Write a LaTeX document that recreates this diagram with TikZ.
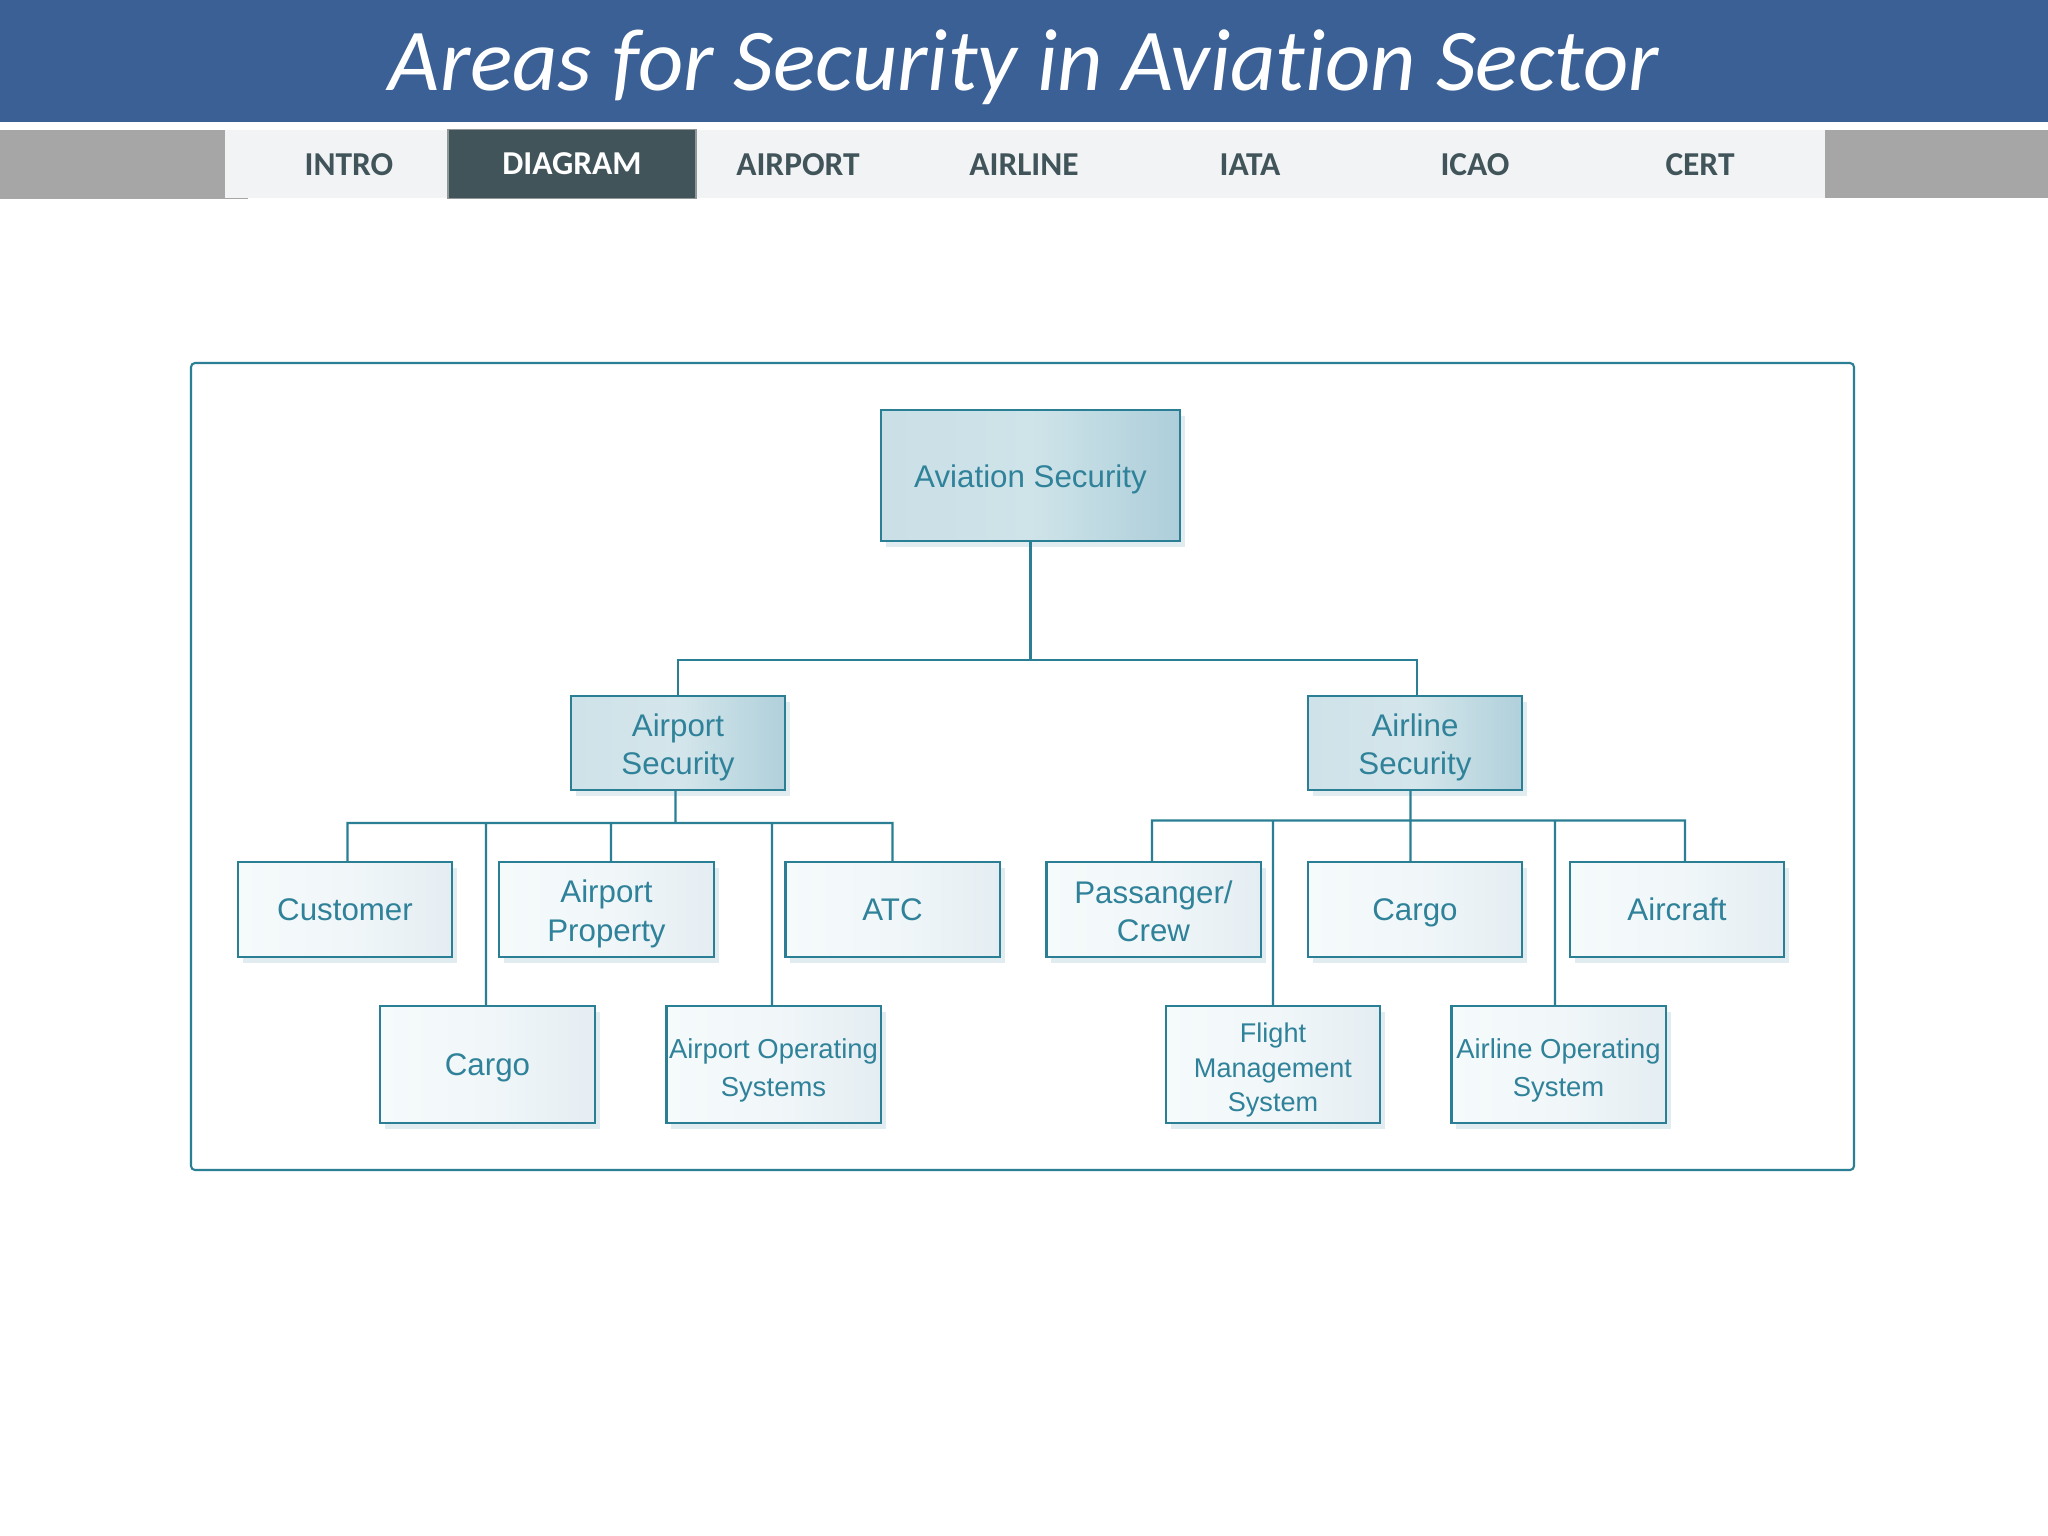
\documentclass[tikz,border=0pt]{standalone}
\usepackage{fontspec}
\usepackage{tikz}
\usepackage{xcolor}
\usetikzlibrary{shadows}
\setmainfont[Ligatures=CommonOff]{Carlito}
\newfontfamily\boxfont{Liberation Sans}
\newcommand{\toppad}[1]{\rule{0pt}{#1}}
\definecolor{banner}{HTML}{3A6095}
\definecolor{navgrey}{HTML}{A5A6A5}
\definecolor{navbar}{HTML}{F1F3F4}
\definecolor{navdark}{HTML}{40545A}
\definecolor{boxline}{HTML}{2A7F95}
\definecolor{boxtext}{HTML}{2F8299}
\definecolor{headleft}{HTML}{CADFE6}
\definecolor{headmid}{HTML}{CFE4E9}
\definecolor{headright}{HTML}{ADCEDA}
\definecolor{midleft}{HTML}{CFE2E9}
\definecolor{midmid}{HTML}{D4E6EB}
\definecolor{midright}{HTML}{B0D0DB}
\definecolor{leafleft}{HTML}{F5FAFB}
\definecolor{leafmid}{HTML}{F1F7F9}
\definecolor{leafright}{HTML}{E4EDF2}

\begin{document}
\begin{tikzpicture}[
    x = 0.01cm,
    y = -0.01cm,
    every node/.style = {align=center, inner sep=0pt},
    navlabel/.style = {font=\bfseries\fontsize{9.5}{11}\selectfont, text=navdark},
    basebox/.style = {
      draw=boxline, line width=0.6pt, text=boxtext,
      font=\boxfont\fontsize{8.9}{10.9}\selectfont,
      drop shadow={shadow xshift=0.05cm, shadow yshift=-0.06cm, opacity=0.14, fill=boxline}
    },
    headbox/.style = {basebox, left color=headleft, right color=headright, middle color=headmid},
    midbox/.style = {basebox, left color=midleft, right color=midright, middle color=midmid,
      minimum width=2.14cm, minimum height=0.94cm},
    leafbox/.style = {basebox, left color=leafleft, right color=leafright, middle color=leafmid,
      minimum width=2.14cm, minimum height=0.95cm},
    lowbox/.style = {leafbox, minimum height=1.17cm},
    link/.style = {draw=boxline, line width=0.6pt}
  ]

  \useasboundingbox (0,0) rectangle (2048,1536);
  \fill[white] (0,0) rectangle (2048,1536);

  % header and menu
  \fill[banner] (0,0) rectangle (2048,122);
  \fill[navgrey] (0,130) rectangle (225,199);
  \fill[navbar] (225,130) rectangle (1825,198);
  \fill[navgrey] (1825,130) rectangle (2048,198);
  \draw[navgrey, line width=0.4pt] (225,198.5) -- (248,198.5);

  \node (title) [anchor=base, text=white, font=\itshape\fontsize{25.1}{29}\selectfont] at (1024,90) {Areas for Security in Aviation Sector};
  \node (intro) [navlabel] at (349,165) {INTRO};
  \node (diagram) [navlabel, text=white, fill=navdark, draw=navgrey!80!navdark, line width=0.4pt,
    minimum width=2.48cm, minimum height=0.69cm] at (572,164) {DIAGRAM};
  \node (airport) [navlabel] at (798,165) {AIRPORT};
  \node (airline) [navlabel] at (1024,165) {AIRLINE};
  \node (iata) [navlabel] at (1250,165) {IATA};
  \node (icao) [navlabel] at (1475,165) {ICAO};
  \node (cert) [navlabel] at (1700,165) {CERT};

  % frame
  \draw[boxline, line width=0.6pt, rounded corners=0.04cm] (191,363) rectangle (1854,1170);

  % boxes
  \node (aviation) [headbox, minimum width=2.99cm, minimum height=1.31cm] at (1030.5,475.5) {\toppad{8.6pt}Aviation Security};
  \node (airportsec) [midbox] at (678,743) {\toppad{9pt}Airport\\Security};
  \node (airlinesec) [midbox] at (1415,743) {\toppad{9pt}Airline\\Security};

  \node (customer) [leafbox] at (345,909.5) {Customer};
  \node (property) [leafbox] at (606.5,909.5) {\toppad{9pt}Airport\\Property};
  \node (atc) [leafbox] at (892.5,909.5) {ATC};
  \node (crew) [leafbox] at (1153.5,909.5) {\toppad{7.5pt}Passanger/\\Crew};
  \node (cargoB) [leafbox] at (1415,909.5) {\toppad{7.9pt}Cargo};
  \node (aircraft) [leafbox] at (1677,909.5) {Aircraft};

  \node (cargoA) [lowbox] at (487.5,1064.5) {\toppad{7.9pt}Cargo};
  \node (airportos) [lowbox, font=\boxfont\fontsize{7.8}{10.7}\selectfont] at (773.5,1064.5) {\toppad{9pt}Airport Operating\\Systems};
  \node (flight) [lowbox, font=\boxfont\fontsize{7.7}{9.9}\selectfont] at (1273,1064.5) {\toppad{8.7pt}Flight\\Management\\System};
  \node (airlineos) [lowbox, font=\boxfont\fontsize{7.8}{10.7}\selectfont] at (1558.5,1064.5) {\toppad{9pt}Airline Operating\\System};

  % connectors
  \coordinate (topbus) at (1030.5,660);
  \coordinate (portbus) at (675.5,823);
  \coordinate (linebus) at (1410.5,820.5);

  \path[link] (aviation.south) -- (topbus)
              (topbus) -| (airportsec.north)
              (topbus) -| ([xshift=0.02cm]airlinesec.north);

  \path[link] ([xshift=-0.025cm]airportsec.south) -- (portbus)
              (portbus) -| ([xshift=0.025cm]customer.north)
              (portbus) -| ([xshift=-0.015cm]cargoA.north)
              (portbus) -| ([xshift=0.045cm]property.north)
              (portbus) -| ([xshift=-0.015cm]airportos.north)
              (portbus) -| (atc.north);

  \path[link] ([xshift=-0.045cm]airlinesec.south) -- (linebus)
              (linebus) -| ([xshift=-0.015cm]crew.north)
              (linebus) -- ([xshift=-0.045cm]cargoB.north)
              (linebus) -| (flight.north)
              (linebus) -| ([xshift=-0.035cm]airlineos.north)
              (linebus) -| ([xshift=0.08cm]aircraft.north);

\end{tikzpicture}
\end{document}
